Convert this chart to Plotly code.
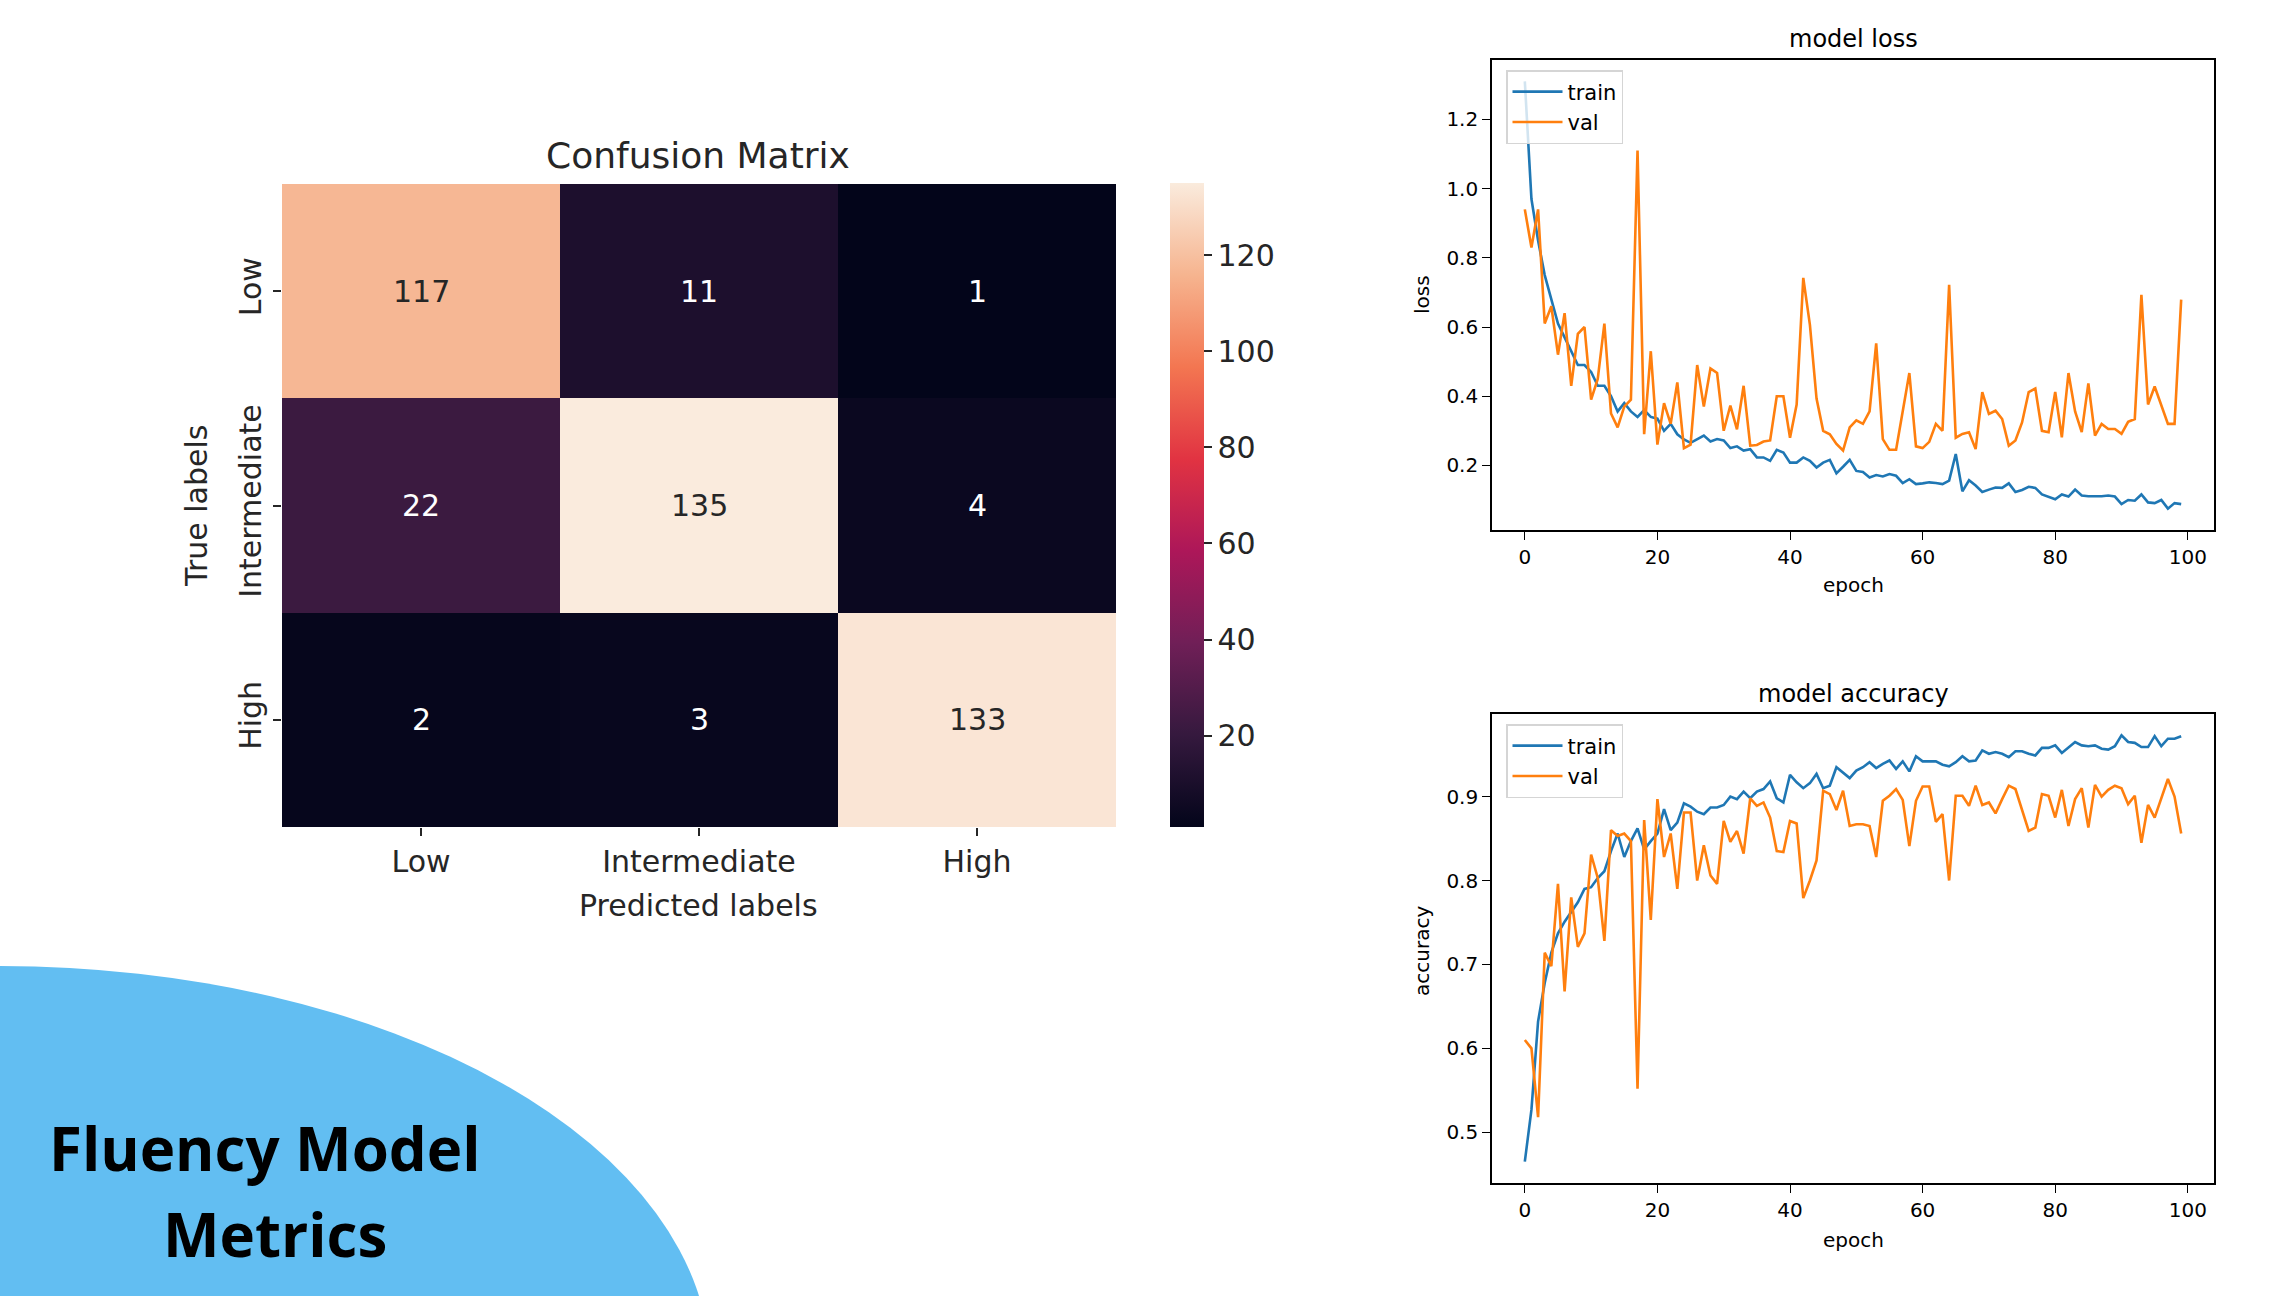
import plotly.graph_objects as go

W, H = 2276, 1296


def px(x):
    return x / W


def py(y):
    return 1 - y / H


# ---------------- data ----------------
classes = ["Low", "Intermediate", "High"]
confusion = [[117, 11, 1],
             [22, 135, 4],
             [2, 3, 133]]

epochs = list(range(100))

loss_train = [1.31, 0.97, 0.85, 0.75, 0.68, 0.61, 0.57, 0.53, 0.49, 0.49,
              0.47, 0.43, 0.43, 0.40, 0.356, 0.38, 0.356, 0.34, 0.36, 0.34,
              0.335, 0.30, 0.32, 0.29, 0.275, 0.265, 0.275, 0.286, 0.269, 0.276,
              0.272, 0.25, 0.255, 0.243, 0.247, 0.223, 0.223, 0.213, 0.245, 0.237,
              0.208, 0.208, 0.223, 0.213, 0.194, 0.208, 0.216, 0.177, 0.196, 0.216,
              0.184, 0.181, 0.165, 0.172, 0.168, 0.175, 0.170, 0.149, 0.16, 0.146,
              0.148, 0.151, 0.149, 0.146, 0.156, 0.233, 0.125, 0.157, 0.142, 0.123,
              0.13, 0.136, 0.135, 0.148, 0.123, 0.129, 0.138, 0.135, 0.116, 0.11,
              0.102, 0.116, 0.11, 0.13, 0.113, 0.111, 0.11, 0.111, 0.113, 0.11,
              0.088, 0.1, 0.098, 0.116, 0.093, 0.091, 0.1, 0.075, 0.091, 0.088]

loss_val = [0.94, 0.83, 0.94, 0.61, 0.66, 0.52, 0.64, 0.43, 0.58, 0.60,
            0.39, 0.45, 0.61, 0.35, 0.31, 0.37, 0.39, 1.11, 0.29, 0.53,
            0.26, 0.38, 0.32, 0.44, 0.25, 0.26, 0.49, 0.37, 0.48, 0.467,
            0.30, 0.373, 0.304, 0.43, 0.257, 0.259, 0.269, 0.272, 0.40, 0.40,
            0.28, 0.376, 0.742, 0.606, 0.393, 0.30, 0.29, 0.262, 0.243, 0.31,
            0.33, 0.32, 0.356, 0.553, 0.276, 0.245, 0.245, 0.356, 0.467, 0.255,
            0.25, 0.268, 0.32, 0.30, 0.722, 0.28, 0.291, 0.296, 0.247, 0.412,
            0.349, 0.358, 0.334, 0.257, 0.272, 0.324, 0.412, 0.422, 0.30, 0.296,
            0.412, 0.281, 0.467, 0.356, 0.296, 0.437, 0.286, 0.32, 0.305, 0.305,
            0.291, 0.326, 0.334, 0.693, 0.376, 0.428, 0.376, 0.32, 0.32, 0.679]

acc_train = [0.465, 0.527, 0.632, 0.678, 0.714, 0.737, 0.751, 0.762, 0.774, 0.79,
             0.792, 0.803, 0.811, 0.835, 0.856, 0.828, 0.847, 0.862, 0.837, 0.847,
             0.856, 0.885, 0.86, 0.869, 0.892, 0.888, 0.882, 0.879, 0.887, 0.887,
             0.89, 0.9, 0.897, 0.906, 0.898, 0.906, 0.909, 0.918, 0.898, 0.893,
             0.926, 0.917, 0.91, 0.916, 0.927, 0.91, 0.913, 0.935, 0.929, 0.922,
             0.931, 0.935, 0.941, 0.934, 0.939, 0.943, 0.933, 0.942, 0.93, 0.948,
             0.942, 0.942, 0.942, 0.938, 0.936, 0.941, 0.948, 0.942, 0.943, 0.955,
             0.951, 0.953, 0.951, 0.947, 0.954, 0.954, 0.951, 0.949, 0.958, 0.958,
             0.961, 0.952, 0.959, 0.965, 0.961, 0.96, 0.961, 0.957, 0.956, 0.96,
             0.973, 0.965, 0.964, 0.959, 0.959, 0.972, 0.96, 0.969, 0.969, 0.972]

acc_val = [0.61, 0.60, 0.518, 0.714, 0.698, 0.796, 0.668, 0.78, 0.721, 0.737,
           0.831, 0.803, 0.728, 0.86, 0.853, 0.856, 0.847, 0.552, 0.872, 0.753,
           0.897, 0.828, 0.856, 0.79, 0.881, 0.881, 0.80, 0.842, 0.806, 0.796,
           0.871, 0.846, 0.859, 0.832, 0.898, 0.889, 0.893, 0.875, 0.835, 0.834,
           0.871, 0.868, 0.779, 0.80, 0.824, 0.907, 0.903, 0.884, 0.907, 0.865,
           0.867, 0.867, 0.865, 0.828, 0.895, 0.901, 0.909, 0.896, 0.841, 0.895,
           0.912, 0.912, 0.87, 0.879, 0.80, 0.901, 0.901, 0.889, 0.913, 0.89,
           0.893, 0.88, 0.897, 0.913, 0.909, 0.885, 0.859, 0.863, 0.903, 0.901,
           0.875, 0.908, 0.865, 0.897, 0.91, 0.863, 0.914, 0.9, 0.908, 0.913,
           0.91, 0.891, 0.901, 0.845, 0.89, 0.875, 0.897, 0.921, 0.9, 0.856]

cbar_ticks = [20, 40, 60, 80, 100, 120]
loss_ticks = [0.2, 0.4, 0.6, 0.8, 1.0, 1.2]
acc_ticks = [0.5, 0.6, 0.7, 0.8, 0.9]
epoch_ticks = [0, 20, 40, 60, 80, 100]

# ---------------- styles ----------------
FONT = "DejaVu Sans"
DARK = "#262626"
C_TRAIN = "#1f77b4"
C_VAL = "#ff7f0e"

rocket = [
    [0.0, "#03051a"],
    [0.143, "#35193e"],
    [0.286, "#701f57"],
    [0.429, "#ad1759"],
    [0.571, "#e13342"],
    [0.714, "#f37651"],
    [0.857, "#f6b48f"],
    [1.0, "#faebdd"],
]


def pad_range(*series):
    lo = min(min(s) for s in series)
    hi = max(max(s) for s in series)
    m = (hi - lo) * 0.05
    return [lo - m, hi + m]


x_range = pad_range(epochs)
loss_range = pad_range(loss_train, loss_val)
acc_range = pad_range(acc_train, acc_val)

zmin = min(min(r) for r in confusion)
zmax = max(max(r) for r in confusion)

fig = go.Figure()

fig.add_trace(go.Heatmap(
    z=confusion, x=classes, y=classes,
    colorscale=rocket, zmin=zmin, zmax=zmax,
    xaxis="x", yaxis="y",
    xgap=0, ygap=0,
    colorbar=dict(
        x=px(1170), xanchor="left", xpad=0, ypad=0,
        y=py(505), yanchor="middle",
        thickness=34, thicknessmode="pixels",
        len=644 / H, lenmode="fraction",
        outlinewidth=0,
        ticks="outside", ticklen=8, tickwidth=1.5, tickcolor=DARK,
        tickvals=cbar_ticks,
        tickfont=dict(family=FONT, size=30, color=DARK),
    ),
    showscale=True,
))

fig.add_trace(go.Scatter(x=epochs, y=loss_train, mode="lines", name="train",
                         line=dict(color=C_TRAIN, width=2.6),
                         xaxis="x2", yaxis="y2", legend="legend"))
fig.add_trace(go.Scatter(x=epochs, y=loss_val, mode="lines", name="val",
                         line=dict(color=C_VAL, width=2.6),
                         xaxis="x2", yaxis="y2", legend="legend"))
fig.add_trace(go.Scatter(x=epochs, y=acc_train, mode="lines", name="train",
                         line=dict(color=C_TRAIN, width=2.6),
                         xaxis="x3", yaxis="y3", legend="legend2"))
fig.add_trace(go.Scatter(x=epochs, y=acc_val, mode="lines", name="val",
                         line=dict(color=C_VAL, width=2.6),
                         xaxis="x3", yaxis="y3", legend="legend2"))

annotations = []
# cell annotations
for i, row in enumerate(confusion):
    for j, v in enumerate(row):
        frac = (v - zmin) / (zmax - zmin)
        annotations.append(dict(
            x=classes[j], y=classes[i], xref="x", yref="y",
            text=str(v), showarrow=False,
            font=dict(family=FONT, size=30, color=DARK if frac > 0.6 else "white"),
        ))


def label(text, x, y, size, angle=0, family=FONT, color=DARK, weight="normal"):
    annotations.append(dict(
        x=px(x), y=py(y), xref="paper", yref="paper",
        text=text, showarrow=False, textangle=angle,
        xanchor="center", yanchor="middle",
        font=dict(family=family, size=size, color=color, weight=weight),
    ))


label("Confusion Matrix", 698, 155, 36)
label("Predicted labels", 698, 905, 30)
label("True labels", 196, 506, 30, angle=-90)

label("model loss", 1853, 39, 24, color="black")
label("epoch", 1853, 585, 20, color="black")
label("loss", 1422, 295, 20, angle=-90, color="black")

label("model accuracy", 1853, 694, 24, color="black")
label("epoch", 1853, 1240, 20, color="black")
label("accuracy", 1422, 951, 20, angle=-90, color="black")

label("Fluency Model", 265, 1148, 60, family="Open Sans", color="black", weight="bold")
label("Metrics", 275, 1234, 60, family="Open Sans", color="black", weight="bold")

heat_axis = dict(
    showgrid=False, zeroline=False, showline=False,
    ticks="outside", ticklen=8, tickwidth=1.5, tickcolor=DARK,
    tickfont=dict(family=FONT, size=30, color=DARK),
)

line_axis = dict(
    showgrid=False, zeroline=False, showline=True, mirror=True,
    linecolor="black", linewidth=1.6,
    ticks="outside", ticklen=8, tickwidth=1.4, tickcolor="black",
    tickfont=dict(family=FONT, size=20, color="black"),
)

legend_style = dict(
    xanchor="left", yanchor="top",
    bgcolor="rgba(255,255,255,0.8)", bordercolor="#d5d5d5", borderwidth=1.5,
    font=dict(family=FONT, size=21, color="black"),
    tracegroupgap=0, itemwidth=50,
)

fig.update_layout(
    width=W, height=H,
    margin=dict(l=0, r=0, t=0, b=0),
    paper_bgcolor="white", plot_bgcolor="white",
    font=dict(family=FONT),
    showlegend=True,
    xaxis=dict(heat_axis, domain=[px(282), px(1116)], anchor="y"),
    yaxis=dict(heat_axis, domain=[py(827), py(184)], anchor="x",
               autorange="reversed", tickangle=-90),
    xaxis2=dict(line_axis, domain=[px(1492), px(2214)], anchor="y2",
                range=x_range, tickvals=epoch_ticks),
    yaxis2=dict(line_axis, domain=[py(530), py(60)], anchor="x2",
                range=loss_range, tickvals=loss_ticks, tickformat=".1f"),
    xaxis3=dict(line_axis, domain=[px(1492), px(2214)], anchor="y3",
                range=x_range, tickvals=epoch_ticks),
    yaxis3=dict(line_axis, domain=[py(1183), py(714)], anchor="x3",
                range=acc_range, tickvals=acc_ticks, tickformat=".1f"),
    legend=dict(legend_style, x=px(1506), y=py(70)),
    legend2=dict(legend_style, x=px(1506), y=py(724)),
    annotations=annotations,
    shapes=[dict(
        type="circle", xref="paper", yref="paper", layer="below",
        x0=px(-710), x1=px(710), y0=py(1366 + 400), y1=py(966),
        fillcolor="#62bef2", line=dict(width=0),
    )],
)

fig.write_html("out.html")
